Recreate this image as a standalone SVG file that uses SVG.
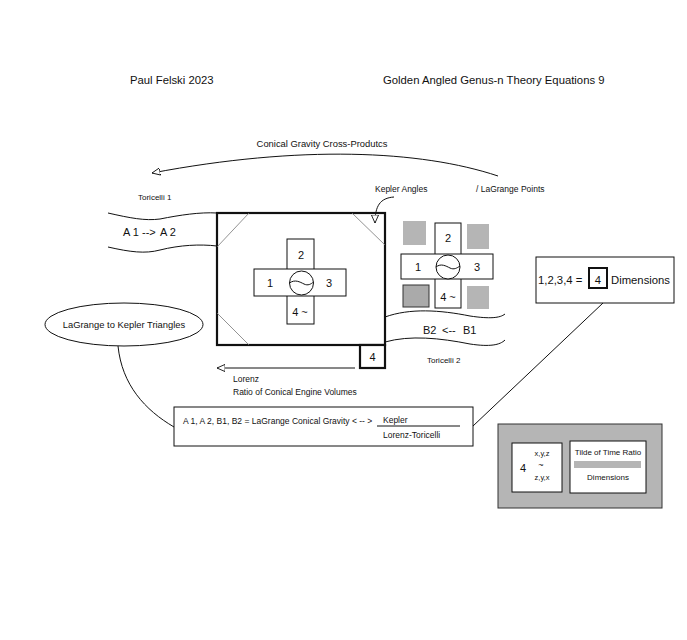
<svg xmlns="http://www.w3.org/2000/svg" width="687" height="640" viewBox="0 0 687 640">
<style>
text{font-family:"Liberation Sans",Arial,sans-serif;fill:#111}
.ln{fill:none;stroke:#111;stroke-width:1}
.box{fill:#fff;stroke:#111;stroke-width:1}
.thick{fill:#fff;stroke:#111;stroke-width:2.2}
.diag{stroke:#777;stroke-width:0.8}
.grey{fill:#b5b5b5;stroke:none}
.t8{font-size:8px}
.t85{font-size:8.5px}
.t95{font-size:9.4px}
.t11{font-size:11px}
.t113{font-size:11.3px}
.c{text-anchor:middle}
</style>
<defs>
<marker id="open" viewBox="0 0 10 10" refX="9" refY="5" markerWidth="9" markerHeight="9" markerUnits="userSpaceOnUse" orient="auto">
<path d="M0,1 L9,5 L0,9 Z" fill="#fff" stroke="#111" stroke-width="1"/>
</marker>
</defs>
<rect width="687" height="640" fill="#fff"/>

<g id="titles">
<text class="t113" x="130" y="84">Paul Felski 2023</text>
<text class="t113" x="383" y="84">Golden Angled Genus-n Theory Equations 9</text>
</g>

<g id="labels">
<text class="t95 c" x="322" y="147">Conical Gravity Cross-Produtcs</text>
<text class="t8" x="138" y="200">Toricelli 1</text>
<text class="t85" x="375" y="192">Kepler Angles</text>
<text class="t85" x="476" y="192">/ LaGrange Points</text>
<text class="t11" y="236"><tspan x="123">A 1</tspan><tspan x="142">--&gt;</tspan><tspan x="160">A 2</tspan></text>
<text class="t11" y="334"><tspan x="423">B2</tspan><tspan x="442">&lt;--</tspan><tspan x="463">B1</tspan></text>
<text class="t8" x="427" y="363">Toricelli 2</text>
<text class="t85" x="233" y="382">Lorenz</text>
<text class="t85" x="233" y="395">Ratio of Conical Engine Volumes</text>
</g>

<g id="main-box">
<rect class="thick" x="217" y="213" width="168" height="132"/>
<line class="diag" x1="249" y1="213" x2="217" y2="247"/>
<line class="diag" x1="352" y1="213" x2="385" y2="245"/>
<line class="diag" x1="217" y1="313" x2="249" y2="345"/>
<rect class="box" x="287" y="239" width="27" height="85"/>
<rect class="box" x="254" y="269" width="92" height="27"/>
<circle class="box" cx="301.5" cy="283" r="12"/>
<path class="ln" d="M289.5,283 C295,279 300,282 304,284 C308,286 311,284 313.5,282"/>
<text class="t11 c" x="301" y="259">2</text>
<text class="t11 c" x="270" y="287">1</text>
<text class="t11 c" x="329" y="287">3</text>
<text class="t11 c" x="300" y="316">4 ~</text>
</g>

<g id="box-4">
<rect class="thick" x="360" y="345" width="25" height="23"/>
<text class="t11 c" x="372.5" y="361">4</text>
</g>

<g id="right-cross">
<rect class="grey" x="403" y="221" width="23" height="24"/>
<rect class="grey" x="467" y="224" width="22" height="25"/>
<rect x="403" y="285" width="26" height="22" fill="#aaa" stroke="#333" stroke-width="1"/>
<rect class="grey" x="467" y="286" width="22" height="23"/>
<rect class="box" x="435" y="223" width="26" height="85"/>
<rect class="box" x="401" y="254" width="92" height="25"/>
<circle class="box" cx="448" cy="267" r="12"/>
<path class="ln" d="M436,267 C441,263 446,266 450,268 C454,270 457,268 460,266"/>
<text class="t11 c" x="448" y="242">2</text>
<text class="t11 c" x="418" y="271">1</text>
<text class="t11 c" x="477" y="271">3</text>
<text class="t11 c" x="448" y="301">4 ~</text>
</g>

<g id="dimensions-box">
<rect class="box" x="536" y="257" width="138" height="46"/>
<text class="t113" x="538" y="284">1,2,3,4 =</text>
<rect x="589" y="268" width="18" height="20" fill="#fff" stroke="#111" stroke-width="2"/>
<text class="t113 c" x="598" y="284">4</text>
<text class="t113" x="611" y="284">Dimensions</text>
</g>

<g id="ellipse">
<ellipse class="box" cx="124" cy="324.5" rx="79" ry="21.5"/>
<text class="t95 c" x="124" y="328">LaGrange to Kepler Triangles</text>
</g>

<g id="equation-box">
<rect class="box" x="174" y="407" width="299" height="39"/>
<text class="t85" x="183" y="424">A 1, A 2, B1, B2 = LaGrange Conical Gravity &lt; -- &gt;</text>
<text class="t85" x="383" y="423">Kepler</text>
<line class="ln" x1="377" y1="426" x2="460" y2="426"/>
<text class="t85" x="383" y="438">Lorenz-Toricelli</text>
</g>

<g id="tilde-box">
<rect x="498" y="424" width="164" height="84" fill="#b5b5b5" stroke="#333" stroke-width="1"/>
<rect class="box" x="512" y="443" width="50" height="49"/>
<text class="t11" x="520" y="472">4</text>
<text class="c" style="font-size:7.5px" x="542" y="456">x,y,z</text>
<text class="c" style="font-size:9px" x="541" y="468">~</text>
<text class="c" style="font-size:7.5px" x="542" y="480">z,y,x</text>
<rect class="box" x="570" y="441" width="76" height="52"/>
<text class="t8 c" x="608" y="455">Tilde of Time Ratio</text>
<rect class="grey" x="574" y="461" width="67" height="7"/>
<text class="t8 c" x="608" y="480">Dimensions</text>
</g>

<g id="connectors">
<path class="ln" d="M498,176 C420,150 300,145 152,173" marker-end="url(#open)"/>
<path class="ln" d="M394,197 C380,198 375,206 375,223" marker-end="url(#open)"/>
<path class="ln" d="M355,368 L217,368" marker-end="url(#open)"/>
<path class="ln" d="M118,346 C122,385 145,410 174,427"/>
<path class="ln" d="M603,303 L473,426"/>
<path class="ln" d="M108,213 C130,218 145,221 160,219 C180,215 200,212 217,213"/>
<path class="ln" d="M108,247 C130,252 145,254 160,250 C180,245 200,244 217,246"/>
<path class="ln" d="M385,317 C410,308 440,310 470,316 C490,319 500,318 505,314"/>
<path class="ln" d="M385,342 C410,335 440,338 470,344 C490,347 500,345 505,340"/>
</g>
</svg>
